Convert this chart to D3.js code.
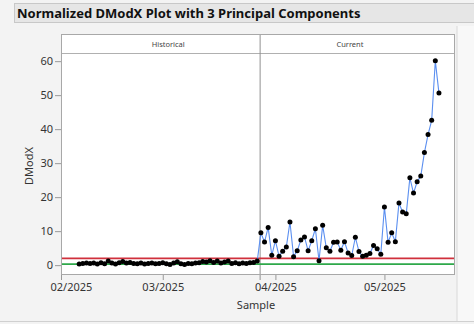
<!DOCTYPE html>
<html>
<head>
<meta charset="utf-8">
<script src="https://cdn.jsdelivr.net/npm/d3@7"></script>
<style>
  body { margin: 0; background: #f3f3f3; }
  svg { display: block; font-family: "Noto Sans", sans-serif; }
</style>
</head>
<body>
<script>
// chart values (one sample per day)
const histStart = "2025-02-06";
const histValues = [0.3, 0.5, 0.6, 0.5, 0.6, 0.3, 0.7, 0.4, 1.2, 0.6,
  0.3, 0.7, 1.1, 0.6, 0.8, 0.5, 0.4, 0.6, 0.3, 0.5,
  0.6, 0.4, 0.5, 0.7, 0.4, 0.2, 0.6, 1.0, 0.4, 0.2,
  0.5, 0.4, 0.6, 0.7, 1.1, 0.9, 1.3, 0.8, 1.2, 0.6,
  0.9, 1.2, 0.5, 0.7, 0.4, 0.6, 0.5, 0.7, 0.8, 1.2];
const curStart = "2025-03-28";
const curValues = [9.5, 6.8, 11.1, 2.9, 7.2, 2.6, 4.1, 5.3, 12.7, 2.5,
  4.2, 7.4, 8.3, 4.2, 7.2, 10.7, 1.3, 11.7, 5.1, 4.1,
  6.7, 6.8, 4.4, 6.9, 3.6, 2.8, 8.2, 4.0, 2.6, 2.9,
  3.4, 5.8, 4.8, 3.2, 17.1, 6.7, 9.5, 6.9, 18.3, 15.6,
  15.1, 25.7, 21.2, 24.5, 26.2, 33.1, 38.4, 42.6, 60.1, 50.6];
const ucl = 2.0;
const centerLine = 0.3;
const yTicks = [0, 10, 20, 30, 40, 50, 60];
const phases = ["Historical", "Current"];

const W = 474, H = 324;
const plot = { left: 61, right: 455, top: 53, bottom: 275 };
const headTop = 34;

const parse = d3.timeParse("%Y-%m-%d");
function toSeries(start, values, phase) {
  const s = parse(start);
  return values.map((v, i) => ({ date: d3.timeDay.offset(s, i), value: v, phase: phase }));
}
const hist = toSeries(histStart, histValues, phases[0]);
const cur = toSeries(curStart, curValues, phases[1]);
const all = hist.concat(cur);

const svg = d3.select("body").append("svg")
  .attr("width", W).attr("height", H);

// outer frame
svg.append("rect").attr("x", 0).attr("y", 0).attr("width", W).attr("height", H).attr("fill", "#f3f3f3");
svg.append("rect").attr("x", 457).attr("y", 26).attr("width", 17).attr("height", 296).attr("fill", "#f8f8f8");
svg.append("line").attr("x1", 457).attr("x2", 457).attr("y1", 26).attr("y2", 322).attr("stroke", "#d8d8d8");
svg.append("line").attr("x1", 0).attr("x2", W).attr("y1", 321.5).attr("y2", 321.5).attr("stroke", "#d0d0d0");

// title bar
svg.append("rect").attr("x", 14.5).attr("y", 3.5).attr("width", 470).attr("height", 19)
  .attr("fill", "#e6e6e6").attr("stroke", "#c8c8c8");
svg.append("text").attr("x", 17).attr("y", 18)
  .style("font-size", "13px").style("font-weight", "bold").attr("fill", "#111")
  .text("Normalized DModX Plot with 3 Principal Components");

const x = d3.scaleTime()
  .domain([new Date(2025, 1, 1), new Date(2025, 4, 20, 10)])
  .range([plot.left, plot.right]);
const y = d3.scaleLinear()
  .domain([-2.9, 62.4])
  .range([plot.bottom, plot.top]);

// plot background
svg.append("rect").attr("x", plot.left).attr("y", headTop)
  .attr("width", plot.right - plot.left).attr("height", plot.bottom - headTop)
  .attr("fill", "#fff");

// header strip
const divX = x(new Date(2025, 2, 27, 19));
svg.append("line").attr("x1", plot.left).attr("x2", plot.right)
  .attr("y1", plot.top + 0.5).attr("y2", plot.top + 0.5).attr("stroke", "#b0b0b0");
svg.append("line").attr("x1", divX).attr("x2", divX)
  .attr("y1", headTop).attr("y2", plot.bottom + 5).attr("stroke", "#909090");
[hist, cur].forEach(g => {
  const cx = (x(g[0].date) + x(g[g.length - 1].date)) / 2;
  svg.append("text").attr("x", cx).attr("y", headTop + 13)
    .attr("text-anchor", "middle").style("font-size", "7.5px").attr("fill", "#444")
    .text(g[0].phase);
});

// limit lines
svg.append("line").attr("x1", plot.left).attr("x2", plot.right)
  .attr("y1", y(ucl)).attr("y2", y(ucl)).attr("stroke", "#d0303c").attr("stroke-width", 1.6);
svg.append("line").attr("x1", plot.left).attr("x2", plot.right)
  .attr("y1", y(centerLine)).attr("y2", y(centerLine)).attr("stroke", "#2ea84a").attr("stroke-width", 1.6);

// series
const line = d3.line().x(d => x(d.date)).y(d => y(d.value));
svg.append("path").datum(all).attr("d", line)
  .attr("fill", "none").attr("stroke", "#5b8ff0").attr("stroke-width", 1.1);
svg.append("g").selectAll("circle").data(all).enter().append("circle")
  .attr("cx", d => x(d.date)).attr("cy", d => y(d.value))
  .attr("r", 2.5).attr("fill", "#000");

// frame
svg.append("rect").attr("x", plot.left + 0.5).attr("y", headTop + 0.5)
  .attr("width", plot.right - plot.left - 1).attr("height", plot.bottom - headTop - 1)
  .attr("fill", "none").attr("stroke", "#a8a8a8");

// axes
const yAxis = svg.append("g").attr("transform", `translate(${plot.left},0)`)
  .call(d3.axisLeft(y).tickValues(yTicks).tickSize(6).tickPadding(2));
yAxis.select(".domain").remove();
yAxis.selectAll("line").attr("stroke", "#999");
yAxis.selectAll("text").style("font-size", "11px").style("font-family", "Noto Sans").attr("fill", "#333");

const xAxis = svg.append("g").attr("transform", `translate(0,${plot.bottom})`)
  .call(d3.axisBottom(x).ticks(d3.timeMonth.every(1)).tickFormat(d3.timeFormat("%m/%Y")).tickSize(5).tickPadding(3));
xAxis.select(".domain").remove();
xAxis.selectAll("line").attr("stroke", "#999");
xAxis.selectAll("text").style("font-size", "11px").style("font-family", "Noto Sans").attr("fill", "#333");
xAxis.selectAll("text").filter((d, i) => i === 0).attr("text-anchor", "start").attr("x", -11);

svg.append("text").attr("x", 256).attr("y", 309)
  .attr("text-anchor", "middle").style("font-size", "11px").attr("fill", "#333").text("Sample");
svg.append("text").attr("transform", `translate(33,${(plot.top + plot.bottom) / 2 + 2}) rotate(-90)`)
  .attr("text-anchor", "middle").style("font-size", "11px").attr("fill", "#333").text("DModX");
</script>
</body>
</html>
